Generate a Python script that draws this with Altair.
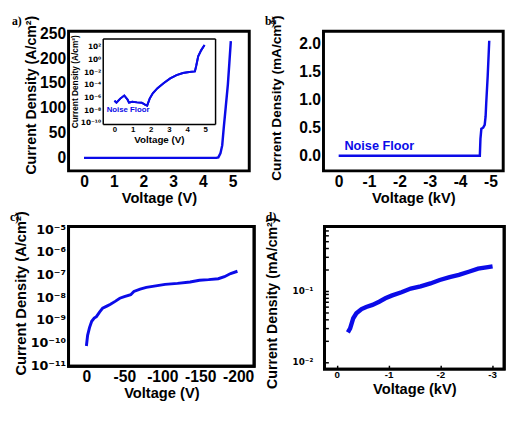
import altair as alt
import pandas as pd

BLUE = "#0b0be8"
SANS = "Liberation Sans"
SUPFONT = "DejaVu Sans"
SERIF = "Liberation Serif"

# ---------------- data ----------------
a_volt = [0, 4.45, 4.52, 4.59, 4.65, 4.70, 4.77, 4.84, 4.89, 4.94]
a_curr = [0, 0, 1, 9, 25, 59, 103, 147, 190, 234]
in_volt = [0, 0.11, 0.32, 0.54, 0.72, 0.80, 0.98, 1.24, 1.50, 1.68, 1.80, 1.94,
           2.11, 2.37, 2.72, 3.07, 3.42, 3.77, 4.12, 4.43, 4.50, 4.61, 4.78, 4.96]
in_curr = [3.2e-7, 1.6e-7, 7.1e-7, 2.2e-6, 5.0e-7, 1.6e-7, 2.2e-7, 1.8e-7, 1.6e-7,
           7.9e-8, 5.6e-8, 7.1e-7, 5.0e-6, 3.2e-5, 2.0e-4, 1.1e-3, 3.5e-3, 7.9e-3,
           1.1e-2, 1.4e-2, 0.1, 3.2, 32, 200]
b_volt = [0, -4.65, -4.67, -4.70, -4.76, -4.81, -4.84, -4.86, -4.91, -4.94, -4.96]
b_curr = [0, 0, 0.3, 0.48, 0.50, 0.55, 0.70, 0.93, 1.43, 1.80, 2.05]
c_volt = [0, -1.6, -4.1, -7, -10.3, -13.2, -17.3, -21.4, -27.6, -31.7, -37.9, -44,
          -50, -58.4, -62.6, -70.8, -79, -91.4, -103.7, -120, -136.6, -149, -161,
          -173.7, -181.9, -190, -199]
c_curr = [7.1e-11, 2.1e-10, 4.6e-10, 8.7e-10, 1.2e-9, 1.4e-9, 2.2e-9, 3.3e-9, 4.2e-9,
          4.9e-9, 6.6e-9, 9.1e-9, 1.07e-8, 1.3e-8, 1.8e-8, 2.3e-8, 2.75e-8, 3.2e-8,
          3.7e-8, 4.1e-8, 4.7e-8, 5.6e-8, 6.0e-8, 6.6e-8, 8.1e-8, 1.12e-7, 1.41e-7]
d_volt = [-0.216, -0.26, -0.32, -0.38, -0.48, -0.57, -0.69, -0.82, -0.94, -1.06, -1.25,
          -1.43, -1.62, -1.81, -1.99, -2.18, -2.36, -2.55, -2.73, -2.92, -3.01]
d_curr = [0.026, 0.0295, 0.041, 0.048, 0.055, 0.059, 0.063, 0.070, 0.078, 0.085, 0.095,
          0.107, 0.115, 0.126, 0.141, 0.155, 0.166, 0.184, 0.204, 0.214, 0.219]

a_xticks = [0, 1, 2, 3, 4, 5]
a_yticks = [0, 50, 100, 150, 200, 250]
in_xticks = [0, 1, 2, 3, 4, 5]
in_yticks = [1e2, 1, 1e-2, 1e-4, 1e-6, 1e-8, 1e-10]
b_xticks = [0, -1, -2, -3, -4, -5]
b_yticks = [0, 0.5, 1.0, 1.5, 2.0]
c_xticks = [0, -50, -100, -150, -200]
c_yticks = [1e-5, 1e-6, 1e-7, 1e-8, 1e-9, 1e-10, 1e-11]
d_xticks = [0, -1, -2, -3]
d_yticks = [0.01, 0.02, 0.03, 0.04, 0.05, 0.06, 0.07, 0.08, 0.09,
            0.1, 0.2, 0.3, 0.4, 0.5, 0.6, 0.7]

# axis extents (also used for the panel frames)
c_xdom = [-221, 23.5]
c_ydom = [9.1e-12, 1.32e-5]
d_xdom = [-3.234, 0.236]
d_ydom = [0.0079, 0.794]

panel_labels = ["a)", "b)", "c)", "d)"]
b_note = ["Noise Floor"]
b_note_v = [-0.19]
b_note_j = [0.18]
in_note = ["Noise Floor"]
in_note_v = [-0.43]
in_note_j = [1.26e-8]

SUP = str.maketrans("-0123456789", "⁻⁰¹²³⁴⁵⁶⁷⁸⁹")


def pow_expr(exps):
    e = "round(log(datum.value)/LN10)"
    parts = [f"{e} == {k} ? '10{str(k).translate(SUP)}'" for k in exps]
    return f"abs(log(datum.value)/LN10 - {e}) > 0.01 ? '' : " + " : ".join(parts) + " : ''"


NEG = "datum.value == 0 ? '0' : '-' + format(abs(datum.value), 'd')"
FRAME = alt.ViewBackground(stroke="black", strokeWidth=3)


def label_layer(txt, dx):
    # panel letter, placed left of / above the plot frame
    return alt.Chart(pd.DataFrame({"t": [txt]})).mark_text(
        font=SERIF, fontSize=12, fontWeight="bold", color="black",
        align="left", baseline="top"
    ).encode(x=alt.value(dx), y=alt.value(-15), text="t:N")


def frame_layer(xdom, ydom, xs, ys, xaxis, yaxis):
    # closed box traced along the extent of both scales
    df = pd.DataFrame({
        "k": [0, 1, 2, 3, 4],
        "fx": [xdom[0], xdom[1], xdom[1], xdom[0], xdom[0]],
        "fy": [ydom[0], ydom[0], ydom[1], ydom[1], ydom[0]],
    })
    return alt.Chart(df).mark_line(color="black", strokeWidth=3, strokeJoin="miter",
                                   strokeCap="square").encode(
        x=alt.X("fx:Q", scale=xs, axis=xaxis),
        y=alt.Y("fy:Q", scale=ys, axis=yaxis),
        order=alt.Order("k:Q"),
    )


# ---------------- panel a ----------------
df_a = pd.DataFrame({"v": a_volt, "j": a_curr})
df_in = pd.DataFrame({"v": in_volt, "j": in_curr})
df_in_note = pd.DataFrame({"v": in_note_v, "j": in_note_j, "t": in_note})

in_xs = alt.Scale(domain=[-0.645, 5.54], range=[35, 150], nice=False, zero=False)
in_ys = alt.Scale(type="log", domain=[7e-11, 2.15e3], range=[95, 7.5], nice=False)

a_main = alt.Chart(df_a).mark_line(color=BLUE, strokeWidth=2.5).encode(
    x=alt.X("v:Q", scale=alt.Scale(domain=[-0.52, 5.56], nice=False, zero=False),
            axis=alt.Axis(orient="bottom", values=a_xticks, title="Voltage (V)",
                          labelFontSize=16, labelPadding=3, titleFontSize=15, titlePadding=1)),
    y=alt.Y("j:Q", scale=alt.Scale(domain=[-26, 254], nice=False, zero=False),
            axis=alt.Axis(orient="left", values=a_yticks, title="Current Density (A/cm²)",
                          labelFontSize=16, labelPadding=3, titleFontSize=14.5,
                          titlePadding=1, titleY=65)),
)
a_inset = alt.Chart(df_in).mark_line(color=BLUE, strokeWidth=2).encode(
    x=alt.X("v:Q", scale=in_xs,
            axis=alt.Axis(orient="bottom", offset=-48, values=in_xticks, title="Voltage (V)",
                          domain=True, domainColor="black", domainWidth=1.5,
                          labelFontSize=8, labelPadding=2, titleFontSize=10, titlePadding=1)),
    y=alt.Y("j:Q", scale=in_ys,
            axis=alt.Axis(orient="left", offset=-35, values=in_yticks,
                          labelExpr=pow_expr(range(-10, 3)), labelFont=SUPFONT,
                          title="Current Density (A/cm²)",
                          domain=True, domainColor="black", domainWidth=1.5,
                          labelFontSize=7.5, labelPadding=2, titleFontSize=8.5, titlePadding=1)),
)
a_inset_frame = alt.Chart(df_in).mark_line(color=BLUE, strokeWidth=2).encode(
    x=alt.X("v:Q", scale=in_xs,
            axis=alt.Axis(orient="top", offset=-7.5, labels=False, title=None,
                          domain=True, domainColor="black", domainWidth=1.5)),
    y=alt.Y("j:Q", scale=in_ys,
            axis=alt.Axis(orient="right", offset=-35, labels=False, title=None,
                          domain=True, domainColor="black", domainWidth=1.5)),
)
a_inset_note = alt.Chart(df_in_note).mark_text(
    color=BLUE, font=SANS, fontWeight="bold", fontSize=8, align="left", baseline="middle"
).encode(
    x=alt.X("v:Q", scale=in_xs, axis=None),
    y=alt.Y("j:Q", scale=in_ys, axis=None),
    text="t:N",
)
panel_a = alt.layer(a_main, a_inset, a_inset_frame, a_inset_note,
                    label_layer(panel_labels[0], -58)).resolve_scale(
    x="independent", y="independent"
).properties(width=185, height=143, view=FRAME)

# ---------------- panel b ----------------
df_b = pd.DataFrame({"v": b_volt, "j": b_curr})
df_b_note = pd.DataFrame({"v": b_note_v, "j": b_note_j, "t": b_note})
b_xs = alt.Scale(domain=[-5.42, 0.5], reverse=True, nice=False, zero=False)
b_ys = alt.Scale(domain=[-0.27, 2.22], nice=False, zero=False)
b_xaxis = alt.Axis(values=b_xticks, labelExpr=NEG, title="Voltage (kV)",
                   labelFontSize=16, labelPadding=3, titleFontSize=15, titlePadding=1)
b_yaxis = alt.Axis(values=b_yticks, format=".1f", title="Current Density (mA/cm²)",
                   labelFontSize=16, labelPadding=3, titleFontSize=14,
                   titlePadding=16, titleY=68)
b_line = alt.Chart(df_b).mark_line(color=BLUE, strokeWidth=2.5).encode(
    x=alt.X("v:Q", scale=b_xs, axis=b_xaxis),
    y=alt.Y("j:Q", scale=b_ys, axis=b_yaxis),
)
b_text = alt.Chart(df_b_note).mark_text(
    color=BLUE, font=SANS, fontWeight="bold", fontSize=13, align="left", baseline="middle"
).encode(x=alt.X("v:Q", scale=b_xs, axis=b_xaxis), y=alt.Y("j:Q", scale=b_ys, axis=b_yaxis),
         text="t:N")
panel_b = alt.layer(b_line, b_text, label_layer(panel_labels[1], -60)).properties(
    width=184, height=143, view=FRAME)

# ---------------- panel c ----------------
df_c = pd.DataFrame({"v": c_volt, "j": c_curr})
c_xs = alt.Scale(domain=c_xdom, reverse=True, nice=False, zero=False)
c_ys = alt.Scale(type="log", domain=c_ydom, nice=False)
c_xaxis = alt.Axis(orient="bottom", values=c_xticks, labelExpr=NEG, title="Voltage (V)",
                   labelFontSize=16, labelPadding=3, titleFontSize=15, titlePadding=1)
c_yaxis = alt.Axis(orient="left", values=c_yticks, labelExpr=pow_expr(range(-11, -4)),
                   labelFont=SUPFONT, title="Current Density (A/cm²)",
                   labelFontSize=13, labelPadding=3, titleFontSize=15,
                   titlePadding=2, titleY=68)
c_line = alt.Chart(df_c).mark_line(color=BLUE, strokeWidth=3).encode(
    x=alt.X("v:Q", scale=c_xs, axis=c_xaxis),
    y=alt.Y("j:Q", scale=c_ys, axis=c_yaxis),
)
panel_c = alt.layer(frame_layer(c_xdom, c_ydom, c_xs, c_ys, c_xaxis, c_yaxis), c_line,
                    label_layer(panel_labels[2], -60)).properties(
    width=190, height=143, view=FRAME)

# ---------------- panel d ----------------
df_d = pd.DataFrame({"v": d_volt, "j": d_curr})
d_xs = alt.Scale(domain=d_xdom, reverse=True, nice=False, zero=False)
d_ys = alt.Scale(type="log", domain=d_ydom, nice=False)
d_xaxis = alt.Axis(orient="bottom", values=d_xticks, labelExpr=NEG, title="Voltage (kV)",
                   offset=-4, ticks=True, tickSize=4, tickWidth=1.5, tickColor="black",
                   labelFontSize=10, labelPadding=1, titleFontSize=15, titlePadding=2)
d_yaxis = alt.Axis(orient="left", values=d_yticks, labelExpr=pow_expr([-2, -1]),
                   labelFont=SUPFONT, title="Current Density (mA/cm²)",
                   offset=-4, ticks=True, tickSize=4, tickWidth=1.5, tickColor="black",
                   labelFontSize=9, labelPadding=12, titleFontSize=14.5, titlePadding=13,
                   titleY=78)
d_line = alt.Chart(df_d).mark_line(color=BLUE, strokeWidth=4.5).encode(
    x=alt.X("v:Q", scale=d_xs, axis=d_xaxis),
    y=alt.Y("j:Q", scale=d_ys, axis=d_yaxis),
)
panel_d = alt.layer(frame_layer(d_xdom, d_ydom, d_xs, d_ys, d_xaxis, d_yaxis), d_line,
                    label_layer(panel_labels[3], -60)).properties(
    width=184, height=146, view=FRAME)

chart = alt.concat(panel_a, panel_b, panel_c, panel_d, columns=2).properties(
    align="none", bounds="full", spacing={"row": 2, "column": 1},
    padding={"left": 0, "top": 0, "right": 0, "bottom": 0},
    background="white",
).configure_view(
    stroke="black", strokeWidth=3
).configure_axis(
    labelFont=SANS, labelFontWeight="bold", labelColor="black",
    titleFont=SANS, titleFontWeight="bold", titleColor="black",
    domain=False, ticks=False, grid=False, labelOverlap=False, labelFlush=False
)

chart.save("out.html", embed_options={"renderer": "svg", "actions": False})
